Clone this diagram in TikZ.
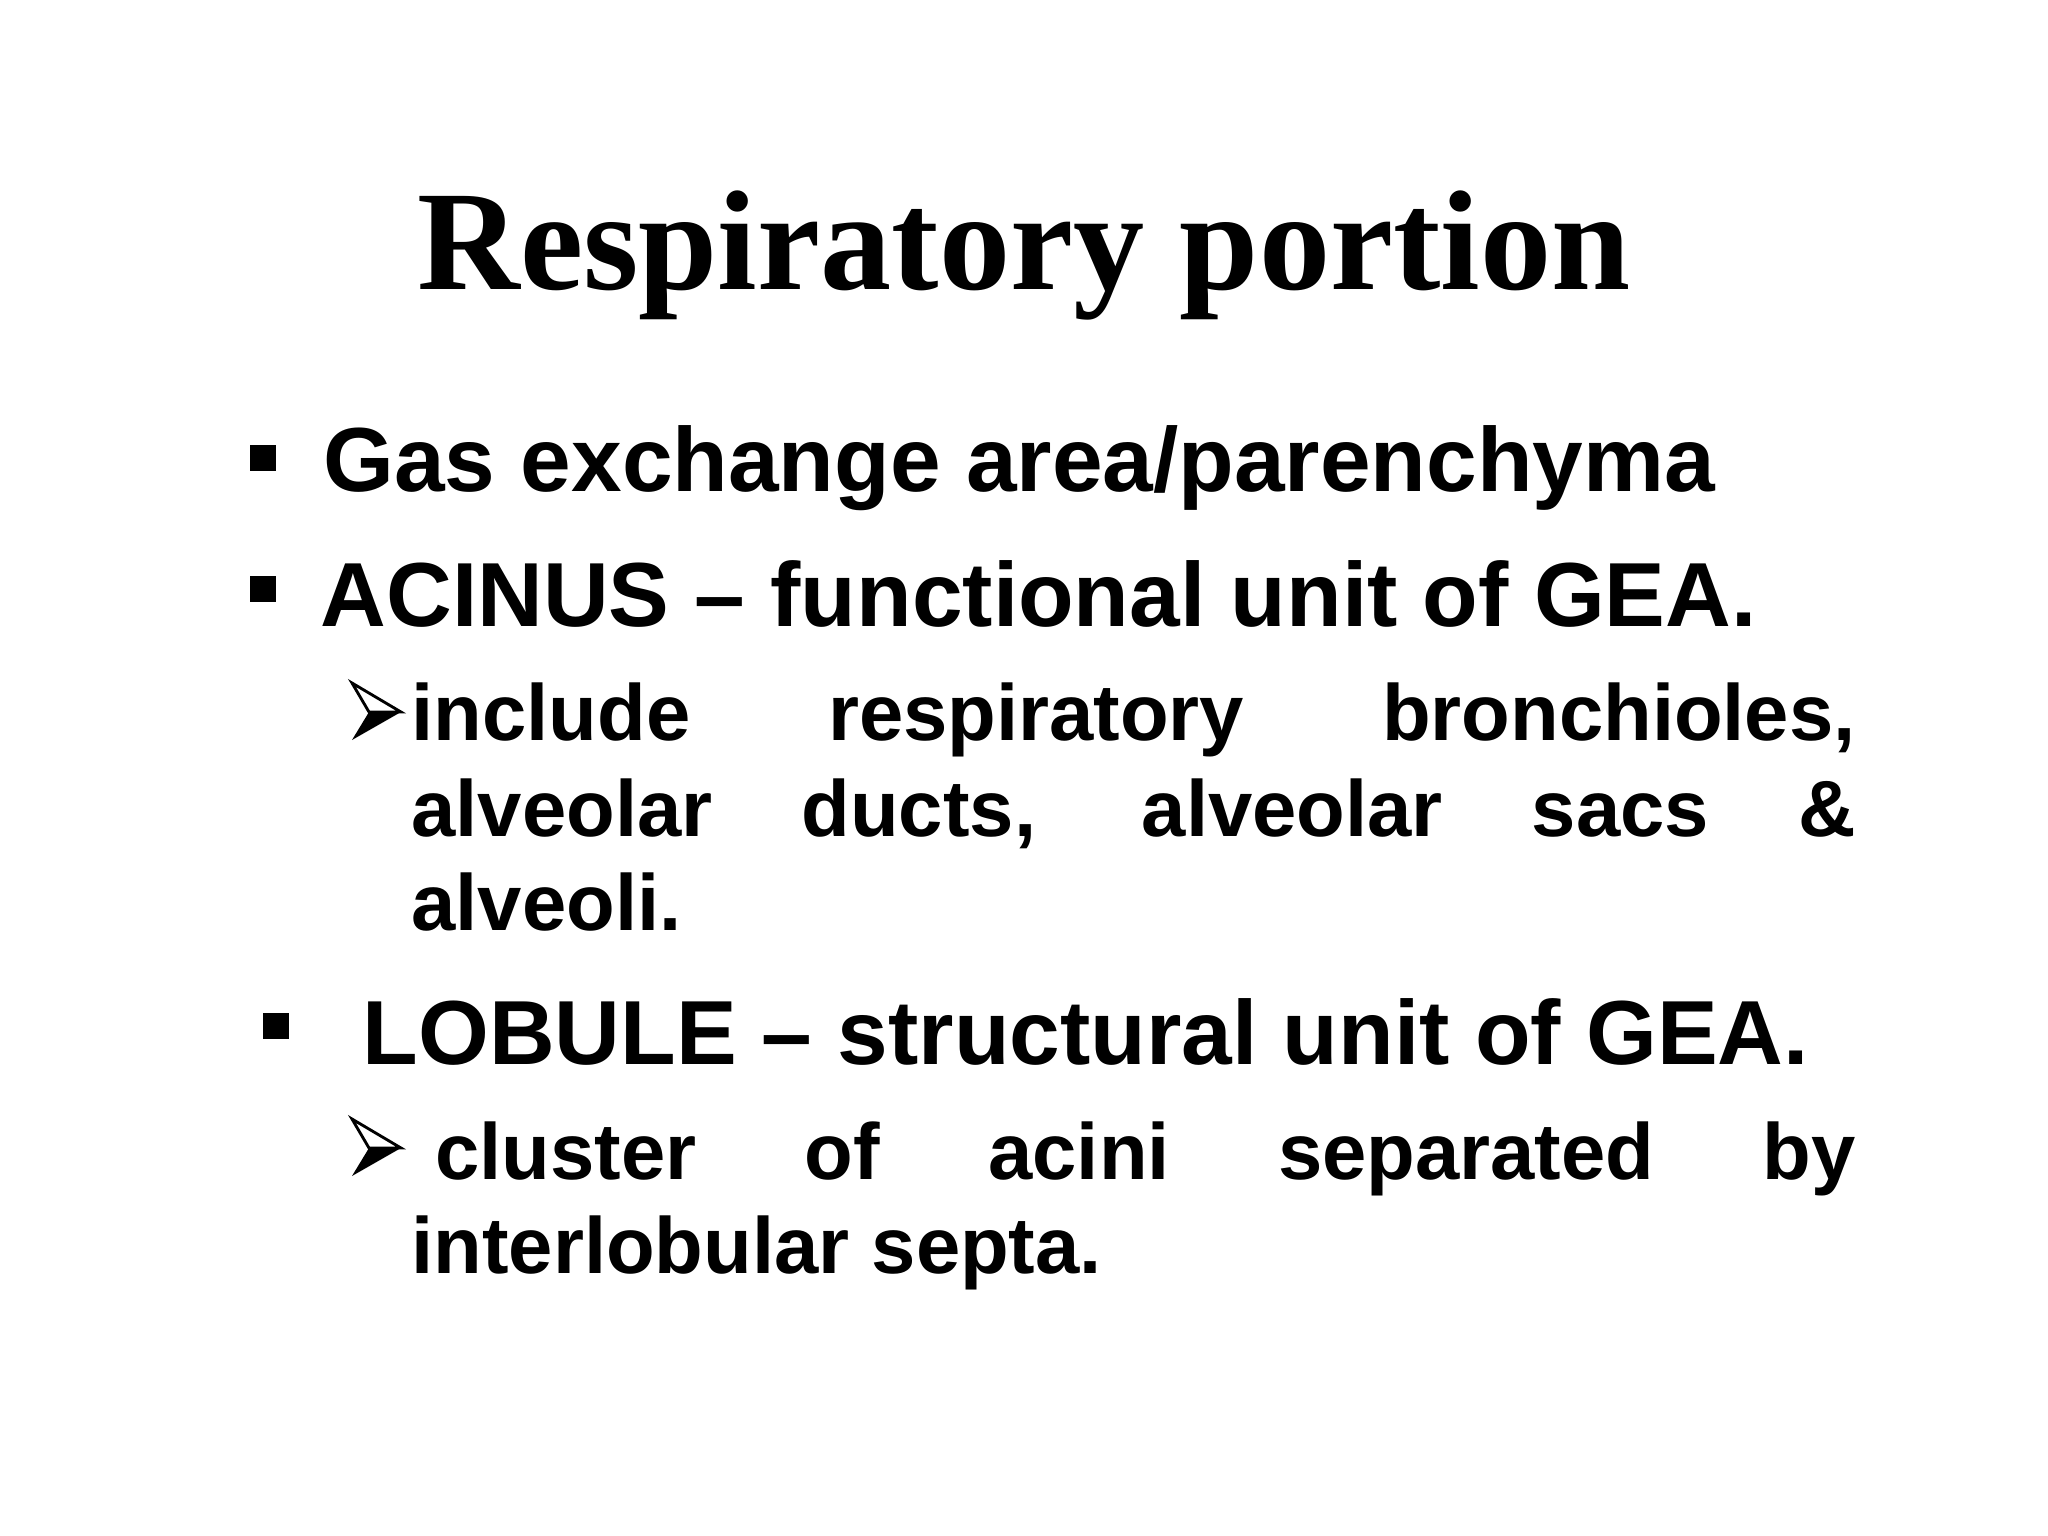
\documentclass[tikz,border=0pt]{standalone}
\usepackage{fontspec}
\setmainfont{Liberation Serif}
\setsansfont{Liberation Sans}
\usetikzlibrary{positioning}

\tikzset{
  slidetitle/.style={font=\bfseries\fontsize{50}{60}\selectfont,inner sep=0pt,anchor=base},
  mainitem/.style={font=\sffamily\bfseries\fontsize{32}{38}\selectfont,inner sep=0pt,anchor=base west},
  subitem/.style={font=\sffamily\bfseries\fontsize{28}{33.6}\selectfont,inner sep=0pt,anchor=base west},
  sqbullet/.style={rectangle,fill=black,minimum width=9.3pt,minimum height=9.3pt,inner sep=0pt}
}

% arrowhead bullet, top left corner at (#1,#2)
\newcommand{\arrowbul}[2]{%
  \fill (#1+17,#2+29) -- (#1+49,#2+29) -- (#1,#2+57) -- cycle;
  \draw[line width=1pt,line join=miter] (#1,#2) -- (#1+49,#2+29) -- (#1+17,#2+29) -- cycle;
}

\begin{document}
\begin{tikzpicture}[x=0.35156pt,y=-0.35156pt]
\fill[white] (0,0) rectangle (2048,1536);
\useasboundingbox (0,0) rectangle (2048,1536);

\node at (1024,290)[slidetitle](title){Respiratory portion};

\node at (263,458)[sqbullet](b1){};
\node at (323,492)[mainitem](gas){Gas exchange area/parenchyma};
\node at (263,589)[sqbullet](b2){};
\node at (320,627)[mainitem](acinus){ACINUS -- functional unit of GEA.};

\arrowbul{352}{683}
\node at (411,740)[subitem](inc1){\makebox[507.7pt][s]{include respiratory bronchioles,}};
\node at (411,836)[subitem](inc2){\makebox[507.7pt][s]{alveolar ducts, alveolar sacs \&}};
\node at (411,930)[subitem](inc3){alveoli.};

\node at (276,1026)[sqbullet](b3){};
\node at (362,1064)[mainitem](lobule){LOBULE -- structural unit of GEA.};

\arrowbul{352}{1119}
\node at (435,1179)[subitem](clu1){\makebox[499.2pt][s]{cluster of acini separated by}};
\node at (411,1273)[subitem](clu2){interlobular septa.};
\end{tikzpicture}
\end{document}
